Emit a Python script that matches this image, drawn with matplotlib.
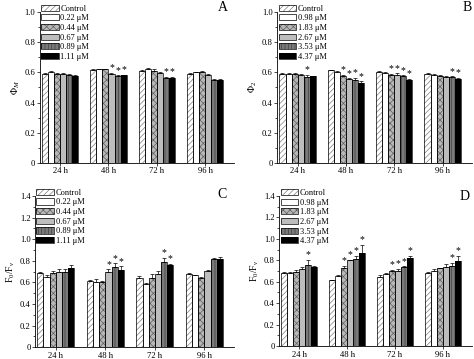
import matplotlib
matplotlib.use("Agg")
import matplotlib.pyplot as plt
from matplotlib.patches import Patch
from matplotlib.ticker import FuncFormatter, MultipleLocator
import numpy as np

plt.rcParams['font.family'] = ['Liberation Serif', 'DejaVu Serif']
plt.rcParams['hatch.linewidth'] = 0.5
plt.rcParams['mathtext.fontset'] = 'custom'
plt.rcParams['mathtext.rm'] = 'Liberation Serif'
plt.rcParams['mathtext.it'] = 'Liberation Serif:italic'

times = ["24 h", "48 h", "72 h", "96 h"]
conc_AC = ["Control", "0.22 μM", "0.44 μM", "0.67 μM", "0.89 μM", "1.11 μM"]
conc_BD = ["Control", "0.98 μM", "1.83 μM", "2.67 μM", "3.53 μM", "4.37 μM"]

A_mean = [[0.59, 0.60, 0.59, 0.59, 0.585, 0.575],
          [0.615, 0.62, 0.62, 0.59, 0.575, 0.58],
          [0.61, 0.625, 0.61, 0.595, 0.56, 0.565],
          [0.59, 0.60, 0.605, 0.585, 0.55, 0.55]]
A_err = [[0.003, 0.008, 0.006, 0.008, 0.004, 0.006],
         [0.004, 0.004, 0.004, 0.008, 0.006, 0.004],
         [0.008, 0.004, 0.015, 0.004, 0.012, 0.006],
         [0.004, 0.004, 0.006, 0.005, 0.003, 0.003]]
A_sig = [[0, 0, 0, 0, 0, 0], [0, 0, 0, 1, 1, 1], [0, 0, 0, 0, 1, 1], [0, 0, 0, 0, 0, 0]]

B_mean = [[0.59, 0.592, 0.59, 0.58, 0.567, 0.575],
          [0.615, 0.60, 0.575, 0.555, 0.55, 0.53],
          [0.605, 0.595, 0.585, 0.585, 0.575, 0.55],
          [0.59, 0.585, 0.575, 0.57, 0.568, 0.557]]
B_err = [[0.003, 0.004, 0.008, 0.008, 0.015, 0.003],
         [0.003, 0.006, 0.008, 0.006, 0.012, 0.012],
         [0.006, 0.004, 0.004, 0.008, 0.004, 0.006],
         [0.005, 0.004, 0.004, 0.008, 0.005, 0.008]]
B_sig = [[0, 0, 0, 0, 1, 0], [0, 0, 1, 1, 1, 1], [0, 0, 1, 1, 1, 1], [0, 0, 0, 0, 1, 1]]

C_mean = [[0.69, 0.65, 0.69, 0.70, 0.70, 0.735],
          [0.615, 0.605, 0.60, 0.695, 0.74, 0.715],
          [0.64, 0.585, 0.64, 0.675, 0.785, 0.76],
          [0.675, 0.665, 0.645, 0.71, 0.815, 0.82]]
C_err = [[0.005, 0.02, 0.02, 0.02, 0.02, 0.025],
         [0.005, 0.03, 0.01, 0.025, 0.035, 0.035],
         [0.02, 0.008, 0.04, 0.03, 0.045, 0.01],
         [0.01, 0.005, 0.005, 0.005, 0.01, 0.015]]
C_sig = [[0, 0, 0, 0, 0, 0], [0, 0, 0, 1, 1, 1], [0, 0, 0, 0, 1, 1], [0, 0, 0, 0, 0, 0]]

D_mean = [[0.685, 0.68, 0.69, 0.715, 0.76, 0.74],
          [0.615, 0.65, 0.73, 0.80, 0.81, 0.87],
          [0.64, 0.675, 0.70, 0.70, 0.735, 0.82],
          [0.68, 0.70, 0.725, 0.74, 0.75, 0.79]]
D_err = [[0.005, 0.008, 0.02, 0.02, 0.045, 0.005],
         [0.005, 0.01, 0.02, 0.005, 0.035, 0.075],
         [0.02, 0.008, 0.01, 0.02, 0.008, 0.025],
         [0.015, 0.015, 0.005, 0.03, 0.025, 0.055]]
D_sig = [[0, 0, 0, 0, 1, 0], [0, 0, 1, 1, 1, 1], [0, 0, 1, 1, 1, 1], [0, 0, 0, 0, 1, 1]]

styles = [
    dict(fc='white', hc='#808080', hatch='//////'),
    dict(fc='white', hc='black', hatch=None),
    dict(fc='#b8b8b8', hc='#606060', hatch='xxxxx'),
    dict(fc='#bdbdbd', hc='#bdbdbd', hatch=None),
    dict(fc='#7a7a7a', hc='#404040', hatch='|||||'),
    dict(fc='black', hc='black', hatch=None),
]

fig = plt.figure(figsize=(4.74, 3.59), dpi=100)

# rect, data..., letter position in figure fraction
panels = [
    ([0.084, 0.546, 0.41, 0.421], A_mean, A_err, A_sig, conc_AC, 1.0, r'$\Phi_M$', 'A', (0.470, 0.980)),
    ([0.585, 0.546, 0.41, 0.421], B_mean, B_err, B_sig, conc_BD, 1.0, r'$\Phi_2$', 'B', (0.985, 0.978)),
    ([0.074, 0.033, 0.42, 0.421], C_mean, C_err, C_sig, conc_AC, 1.4, r'F$_0$/F$_v$', 'C', (0.468, 0.457)),
    ([0.589, 0.036, 0.406, 0.418], D_mean, D_err, D_sig, conc_BD, 1.4, r'F$_0$/F$_v$', 'D', (0.981, 0.454)),
]

bw = 0.125
x = np.arange(len(times))
for rect, mean, err, sig, labels, ymax, ylab, letter, lpos in panels:
    ax = fig.add_axes(rect)
    mean = np.array(mean)
    err = np.array(err)
    handles = []
    for j in range(6):
        st = styles[j]
        xs = x - 0.375 + bw * (j + 0.5)
        ax.bar(xs, mean[:, j], bw, color=st['fc'], edgecolor=st['hc'],
               hatch=st['hatch'], linewidth=0, zorder=2)
        ax.bar(xs, mean[:, j], bw, fill=False, edgecolor='black',
               linewidth=0.5, zorder=3)
        ax.errorbar(xs, mean[:, j], yerr=[np.zeros(4), err[:, j]], fmt='none',
                    ecolor='black', elinewidth=0.5, capsize=1.2, capthick=0.5, zorder=4)
        for i in range(4):
            if sig[i][j]:
                ax.text(xs[i], mean[i, j] + err[i, j] + 0.003 * ymax, '*',
                        ha='center', va='bottom', fontsize=7, zorder=5)
        p1 = Patch(facecolor=st['fc'], edgecolor=st['hc'], hatch=st['hatch'], linewidth=0)
        p2 = Patch(fill=False, edgecolor='black', linewidth=0.5)
        handles.append((p1, p2))
    ax.set_xlim(-0.42, 3.6)
    ax.set_ylim(0, ymax)
    ax.spines['top'].set_visible(False)
    ax.spines['right'].set_visible(False)
    ax.spines['left'].set_linewidth(0.6)
    ax.spines['bottom'].set_linewidth(0.6)
    ax.set_xticks(x)
    ax.set_xticklabels(times, fontsize=6.2)
    ax.yaxis.set_major_locator(MultipleLocator(0.2))
    ax.yaxis.set_minor_locator(MultipleLocator(0.1))
    ax.yaxis.set_major_formatter(FuncFormatter(lambda v, p: '0' if abs(v) < 1e-9 else f'{v:.1f}'))
    ax.tick_params(axis='both', labelsize=6.2, width=0.5, length=2.2, pad=1.0)
    ax.tick_params(axis='y', which='minor', width=0.5, length=1.3)
    ax.set_ylabel(ylab, fontsize=7, labelpad=2)
    fig.text(lpos[0], lpos[1], letter, ha='center', va='center', fontsize=10)
    ax.legend(handles, labels, loc='upper left', bbox_to_anchor=(-0.01, 1.07),
              frameon=False, fontsize=6, handlelength=2.1, handleheight=0.75,
              handletextpad=0.2, labelspacing=0.2, borderaxespad=0.2,
              borderpad=0.2)

fig.savefig('out.png', dpi=100)
